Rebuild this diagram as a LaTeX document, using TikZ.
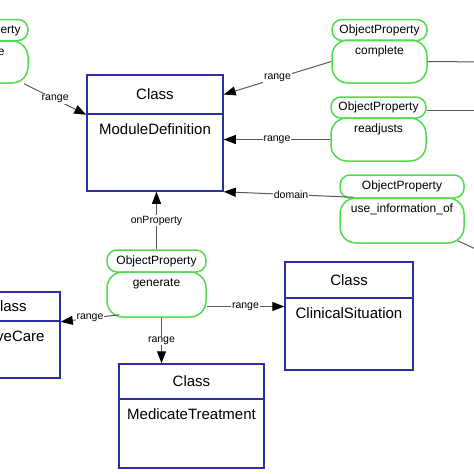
\documentclass[tikz,border=0pt]{standalone}
\usepackage{fontspec}
\setmainfont{Liberation Sans}
\usetikzlibrary{arrows.meta,calc}
\definecolor{boxblue}{RGB}{45,45,165}
\definecolor{pillgreen}{RGB}{80,220,80}
\definecolor{linegray}{RGB}{90,90,90}
\begin{document}
\begin{tikzpicture}[x=1pt,y=-1pt,
  chead/.style={draw=boxblue,line width=1.5pt,inner sep=0pt,font=\fontsize{15}{18}\selectfont},
  cbody/.style={draw=boxblue,line width=1.5pt,inner sep=0pt},
  classtext/.style={anchor=base,inner sep=0pt,yshift=-21pt,font=\fontsize{15}{18}\selectfont},
  ptop/.style={draw=pillgreen,line width=1.5pt,rounded corners=10pt,inner sep=0pt,font=\fontsize{12}{14}\selectfont},
  pbody/.style={draw=pillgreen,line width=1.5pt,rounded corners=16pt,inner sep=0pt},
  bodytext/.style={anchor=base,inner sep=0pt,yshift=-15pt,font=\fontsize{12}{14}\selectfont},
  elabel/.style={fill=white,inner sep=1pt,font=\fontsize{10.5}{12}\selectfont},
  conn/.style={draw=linegray,line width=1pt},
  arr/.style={conn,-{Triangle[length=12pt,width=9pt,color=black]}}]
\useasboundingbox[fill=white] (0,0) rectangle (474,474);

% classes
\node[chead,minimum width=136pt,minimum height=39pt] (mdh) at (155,94.5) {Class};
\node[cbody,minimum width=136pt,minimum height=77pt,label={[classtext]north:ModuleDefinition}] (mdb) at (155,152.5) {};
\node[chead,minimum width=128pt,minimum height=36pt] (csh) at (349,280) {Class};
\node[cbody,minimum width=128pt,minimum height=72pt,label={[classtext]north:ClinicalSituation}] (csb) at (349,334) {};
\node[chead,minimum width=145pt,minimum height=35pt] (mth) at (191.5,381.5) {Class};
\node[cbody,minimum width=145pt,minimum height=69pt,label={[classtext]north:MedicateTreatment}] (mtb) at (191.5,433.5) {};
\node[chead,minimum width=104pt,minimum height=29pt] (pch) at (8,306.5) {Class};
\node[cbody,minimum width=104pt,minimum height=57pt,label={[classtext,anchor=base east,xshift=-16pt]north east:PreventiveCare}] (pcb) at (8,349.5) {};

% object properties
\node[ptop,minimum width=95pt,minimum height=21pt] (tlt) at (-19.5,30) {ObjectProperty};
\node[pbody,minimum width=95pt,minimum height=42pt,label={[bodytext,anchor=base east,xshift=-24pt]north east:e}] (tlb) at (-19.5,62) {};
\node[ptop,minimum width=95pt,minimum height=21pt] (ct) at (379.5,30) {ObjectProperty};
\node[pbody,minimum width=95pt,minimum height=43pt,label={[bodytext]north:complete}] (cb) at (379.5,61.5) {};
\node[ptop,minimum width=95pt,minimum height=21pt] (rt) at (378.5,107.5) {ObjectProperty};
\node[pbody,minimum width=95pt,minimum height=43pt,label={[bodytext]north:readjusts}] (rb) at (378.5,139.5) {};
\node[ptop,minimum width=124pt,minimum height=23pt] (ut) at (402,186.5) {ObjectProperty};
\node[pbody,minimum width=124pt,minimum height=45pt,label={[bodytext]north:use\_information\_of}] (ub) at (402,220.5) {};
\node[ptop,minimum width=99pt,minimum height=22pt] (gt) at (156.5,261) {ObjectProperty};
\node[pbody,minimum width=99pt,minimum height=45pt,label={[bodytext]north:generate}] (gb) at (156.5,294.5) {};

% off-page ends
\coordinate (r1) at (488,62);
\coordinate (r2) at (488,110);
\coordinate (r3) at (510,265);

% connectors
\draw[arr] (tlb) -- node[elabel,pos=0.5]{range} (mdh.south west);
\draw[arr] (cb.west) -- node[elabel]{range} (mdh.east);
\draw[arr] (cb.east) -- (r1);
\draw[arr] (rt.east |- r2) -- (r2);
\draw[arr] (rb.west) -- node[elabel]{range} (mdb.east |- rb.west);
\draw[arr] ($(ub.north west)+(14,0)$) -- node[elabel,pos=0.48]{domain} (mdb.south east);
\draw[conn] ($(ub.south east)+(-7,-3)$) -- (r3);
\draw[arr] (gt.north) -- node[elabel]{onProperty} (gt.north |- mdb.south);
\draw[arr] ($(gb.south west)+(13,-3)$) -- node[elabel]{range} (pch.south east);
\coordinate (g2) at ($(gb.south)+(5,0)$);
\draw[arr] (g2) -- node[elabel]{range} (g2 |- mth.north);
\coordinate (g3) at ($(gb.east)+(0,12)$);
\draw[arr] (g3) -- node[elabel]{range} (g3 -| csb.west);
\end{tikzpicture}
\end{document}
